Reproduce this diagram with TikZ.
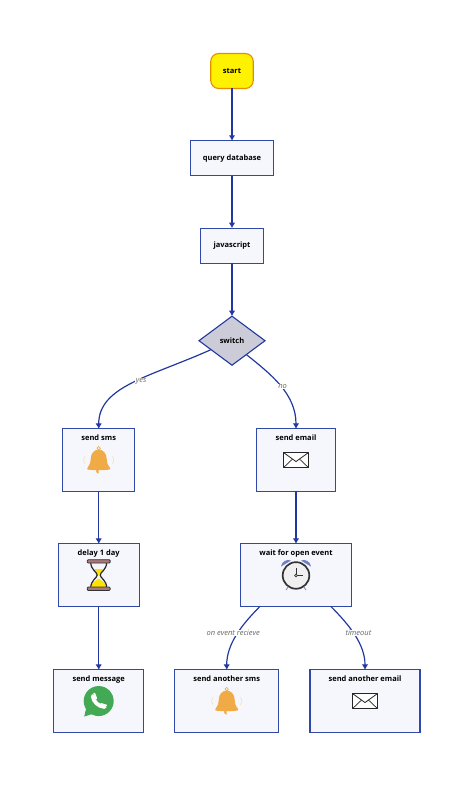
\documentclass[tikz,border=0pt]{standalone}
\usepackage{fontspec}
\setmainfont{Open Sans}
\usetikzlibrary{positioning,shapes.geometric,arrows.meta}
\definecolor{edgeblue}{HTML}{2238A0}
\definecolor{boxblue}{HTML}{3048A8}
\definecolor{boxfill}{HTML}{F5F7FD}
\definecolor{bellorange}{HTML}{F0AB47}
\definecolor{whatsgreen}{HTML}{43A954}
\definecolor{glassbrown}{HTML}{A9787A}

\tikzset{
  bellicon/.pic={
    \draw[bellorange, line width=.7pt] (0,11.9) circle (1.7);
    \fill[bellorange] (0,-13.6) arc (-90:-270:2.6) -- cycle;
    \fill[bellorange] (-11.5,-9) .. controls (-11.5,-6.5) and (-8,-5.5) .. (-8,1)
      .. controls (-8,7) and (-4,10.5) .. (0,10.5)
      .. controls (4,10.5) and (8,7) .. (8,1)
      .. controls (8,-5.5) and (11.5,-6.5) .. (11.5,-9)
      .. controls (11.5,-10.5) and (-11.5,-10.5) .. (-11.5,-9) -- cycle;
    \draw[bellorange!35, line width=.7pt] (-13.5,4) .. controls (-15.5,1) and (-15.5,-1) .. (-13.5,-4);
    \draw[bellorange!35, line width=.7pt] (13.5,4) .. controls (15.5,1) and (15.5,-1) .. (13.5,-4);
  },
  mailicon/.pic={
    \draw[black!85, line width=1pt, line join=round, fill=white] (-12.2,-7.3) rectangle (12.2,7.3);
    \draw[black!85, line width=.8pt, line join=round] (-12.2,7.3) -- (0,-1.5) -- (12.2,7.3);
    \draw[black!85, line width=.7pt] (-12.2,-7.3) -- (-3.5,1) (12.2,-7.3) -- (3.5,1);
  },
  glassicon/.pic={
    \fill[yellow!85!orange] (-8,-13.5) .. controls (-8,-7) and (-3,-6) .. (0,-3.5)
      .. controls (3,-6) and (8,-7) .. (8,-13.5) -- cycle;
    \fill[yellow!85!orange] (-5,6) -- (5,6) .. controls (4,3) and (1,2) .. (0,0) .. controls (-1,2) and (-4,3) .. (-5,6) -- cycle;
    \draw[black!85, line width=1.2pt] (-8,13) .. controls (-8,5) and (-1.5,3) .. (-1.5,0)
      .. controls (-1.5,-3) and (-8,-5) .. (-8,-13);
    \draw[black!85, line width=1.2pt] (8,13) .. controls (8,5) and (1.5,3) .. (1.5,0)
      .. controls (1.5,-3) and (8,-5) .. (8,-13);
    \draw[black!80, line width=.8pt, fill=glassbrown, rounded corners=1pt] (-11.5,12) rectangle (11.5,15.4);
    \draw[black!80, line width=.8pt, fill=glassbrown, rounded corners=1pt] (-11.5,-15.4) rectangle (11.5,-12);
  },
  clockicon/.pic={
    \fill[boxblue!70] (-15,8.5) .. controls (-14.5,13.5) and (-9,16.5) .. (-5,14.5) -- cycle;
    \fill[boxblue!70] (15,8.5) .. controls (14.5,13.5) and (9,16.5) .. (5,14.5) -- cycle;
    \draw[black!45, line width=.8pt] (-8,-12) -- (-10,-15) (8,-12) -- (10,-15);
    \draw[black!80, line width=1.7pt, fill=black!6] (0,-.4) circle (13.3);
    \draw[black!80, line width=.9pt] (0,7) -- (0,-.4) -- (6.5,-.4);
    \draw[black!80, line width=.7pt, fill=white] (0,-.4) circle (1.4);
  },
  whatsicon/.pic={
    \fill[whatsgreen] (0,0) circle (15);
    \fill[whatsgreen] (-14.5,-15.5) -- (-12,-5) -- (-5,-12.5) -- cycle;
    \draw[white, line width=3.8pt, line cap=round] (-6,5) .. controls (-5,-1) and (-1,-5) .. (6,-6);
    \draw[white, line width=2pt, line cap=round] (-4.5,7.5) -- (-2.5,2.5) (7.5,-4.5) -- (2.5,-3);
  }
}

\begin{document}
\begin{tikzpicture}[
  x=1pt, y=1pt,
  box/.style={
    draw=boxblue,
    line width=1.1pt,
    fill=boxfill,
    outer sep=0pt,
    align=center,
    font=\fontsize{7.5}{9}\selectfont\bfseries,
    minimum height=35pt
  },
  tallbox/.style={box, minimum height=62.3pt},
  title/.style={font=\fontsize{7.5}{9}\selectfont\bfseries, inner sep=0pt},
  decision/.style={diamond, draw=edgeblue, line width=1.1pt, fill=blue!25!black!20, aspect=1.35,
    inner sep=0pt, outer sep=0pt, minimum width=66pt, minimum height=49pt,
    font=\fontsize{7.5}{9}\selectfont\bfseries},
  terminal/.style={box, draw=orange!75!yellow!90!black, fill=yellow, rounded corners=8pt, minimum width=42.5pt},
  line/.style={draw=edgeblue, line width=1.2pt, -{Latex[length=5.5pt,width=6.5pt]}},
  edgetext/.style={font=\fontsize{7.5}{9}\selectfont\itshape, text=black!60, fill=white, inner sep=.5pt}
]
\useasboundingbox (0,0) rectangle (474,-786);
\node[terminal] at (232,-71) (start) {start};
\node[box, below=52.3pt of start, minimum width=82.6pt] (query) {query database};
\node[box, below=52.4pt of query, minimum width=62.3pt] (javascript) {javascript};
\node[decision, below=53pt of javascript] (switch) {switch};

\node[tallbox, below=63.7pt of switch, xshift=-133.3pt, minimum width=72pt] (sms) {};
\node[tallbox, below=63.7pt of switch, xshift=64pt, minimum width=78.3pt] (email) {};
\node[tallbox, below=52.7pt of sms, minimum width=80.7pt] (delay) {};
\node[tallbox, below=63.7pt of delay, minimum width=90pt] (message) {};
\node[tallbox, below=52.7pt of email, minimum width=110.7pt] (wait) {};
\node[tallbox, below=63.7pt of wait, xshift=-69.3pt, minimum width=103.7pt] (anothersms) {};
\node[tallbox, below=63.7pt of wait, xshift=69pt, minimum width=110pt] (anotheremail) {};

\node[title, below=5.4pt of sms.north] (smstitle) {send sms};
\node[title, below=5.4pt of email.north] (emailtitle) {send email};
\node[title, below=5.4pt of delay.north] (delaytitle) {delay 1 day};
\node[title, below=5.4pt of message.north] (messagetitle) {send message};
\node[title, below=5.4pt of wait.north] (waittitle) {wait for open event};
\node[title, below=5.4pt of anothersms.north] (anothersmstitle) {send another sms};
\node[title, below=5.4pt of anotheremail.north] (anotheremailtitle) {send another email};

\pic at (sms) {bellicon};
\pic at (email) {mailicon};
\pic at (delay) {glassicon};
\pic at (message) {whatsicon};
\pic at (wait) {clockicon};
\pic at (anothersms) {bellicon};
\pic at (anotheremail) {mailicon};

\draw[line] (start) -- (query);
\draw[line] (query) -- (javascript);
\draw[line] (javascript) -- (switch);
\draw[line] (sms) -- (delay);
\draw[line] (delay) -- (message);
\draw[line] (email) -- (wait);
\draw[line] (switch.203) .. controls +(-60,-27) and +(0,43) .. node[edgetext, pos=.44, xshift=1pt, yshift=-2pt] (yes) {yes} (sms.north);
\draw[line] (switch.-44) .. controls +(25,-20) and +(0,35) .. node[edgetext, pos=.5, xshift=2pt] (no) {no} (email.north);
\draw[line] (wait.-139) .. controls +(-20,-20) and +(0,25) .. node[edgetext, pos=.45, xshift=-4.5pt] (recieve) {on event recieve} (anothersms.north);
\draw[line] (wait.-42) .. controls +(20,-20) and +(0,25) .. node[edgetext, pos=.45, xshift=5pt] (timeout) {timeout} (anotheremail.north);
\end{tikzpicture}
\end{document}
